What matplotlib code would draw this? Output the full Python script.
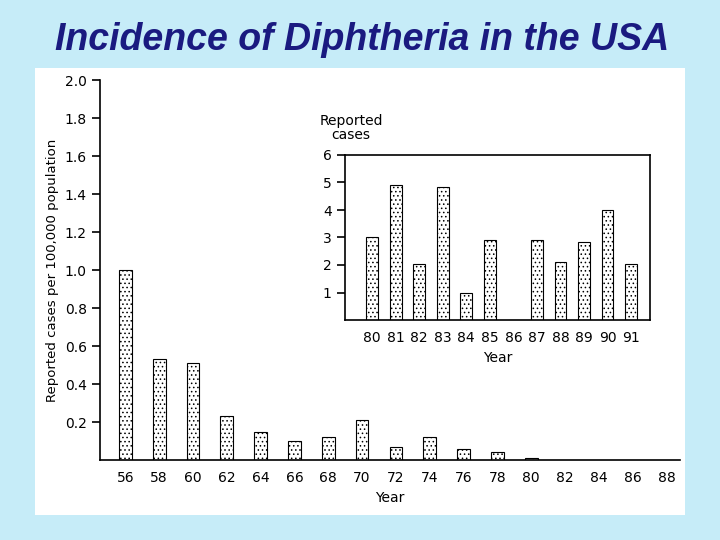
import matplotlib
matplotlib.use("Agg")
import matplotlib.pyplot as plt

years = [56, 58, 60, 62, 64, 66, 68, 70, 72, 74, 76, 78, 80]
rates = [1.0, 0.53, 0.51, 0.23, 0.15, 0.10, 0.12, 0.21, 0.07, 0.12, 0.06, 0.04, 0.01]
xticks = [56, 58, 60, 62, 64, 66, 68, 70, 72, 74, 76, 78, 80, 82, 84, 86, 88]
yticks = [0.2, 0.4, 0.6, 0.8, 1.0, 1.2, 1.4, 1.6, 1.8, 2.0]

in_years = [80, 81, 82, 83, 84, 85, 86, 87, 88, 89, 90, 91]
in_cases = [3, 4.9, 2.05, 4.85, 1, 2.9, 0, 2.9, 2.1, 2.85, 4, 2.05]
in_yticks = [1, 2, 3, 4, 5, 6]

plt.rcParams['font.family'] = ['DejaVu Sans']
plt.rcParams['hatch.color'] = '#777777'
plt.rcParams['hatch.linewidth'] = 0.6

fig = plt.figure(figsize=(7.2, 5.4), dpi=100)
fig.patch.set_facecolor('#c6ecf8')
fig.text(0.503, 0.926, 'Incidence of Diphtheria in the USA', ha='center', va='center',
         fontsize=27, style='italic', weight='bold', color='#1a1a80', family='Liberation Sans')

bg = fig.add_axes([35/720, 25/540, 650/720, 447/540], zorder=-1)
bg.set_facecolor('white')
bg.set_xticks([]); bg.set_yticks([])
for s in bg.spines.values():
    s.set_visible(False)

ax = fig.add_axes([100/720, 80/540, 580/720, 380/540], zorder=1)
ax.set_facecolor('none')
ax.bar(years, rates, width=0.75, facecolor='white', edgecolor='black', hatch='....', linewidth=0.8)
ax.set_xlim(54.5, 88.8)
ax.set_ylim(0, 2.0)
ax.set_yticks(yticks)
ax.set_yticklabels([f'{v:.1f}' for v in yticks], fontsize=10)
ax.set_xticks(xticks)
ax.set_xticklabels([str(v) for v in xticks], fontsize=10)
ax.tick_params(axis='x', length=0, pad=8)
ax.tick_params(axis='y', length=6, width=1.2)
for s in ['top', 'right']:
    ax.spines[s].set_visible(False)
ax.spines['left'].set_linewidth(1.2)
ax.spines['bottom'].set_linewidth(1.2)
ax.set_xlabel('Year', fontsize=10)
ax.set_ylabel('Reported cases per 100,000 population', fontsize=9.5)

ins = fig.add_axes([345/720, 220/540, 305/720, 165/540], zorder=2)
ins.bar(in_years, in_cases, width=0.5, facecolor='white', edgecolor='black', hatch='....', linewidth=0.8)
ins.set_xlim(78.85, 91.8)
ins.set_ylim(0, 6)
ins.set_yticks(in_yticks)
ins.set_yticklabels([str(v) for v in in_yticks], fontsize=10)
ins.set_xticks(in_years)
ins.set_xticklabels([str(v) for v in in_years], fontsize=10)
ins.tick_params(axis='x', length=0, pad=8)
ins.tick_params(axis='y', length=6, width=1.2)
for s in ins.spines.values():
    s.set_linewidth(1.2)
ins.set_xlabel('Year', fontsize=10)
ins.text(0.02, 1.08, 'Reported\ncases', transform=ins.transAxes, ha='center', va='bottom', fontsize=10, linespacing=0.95)

fig.savefig('out.png', dpi=100, facecolor=fig.get_facecolor())
